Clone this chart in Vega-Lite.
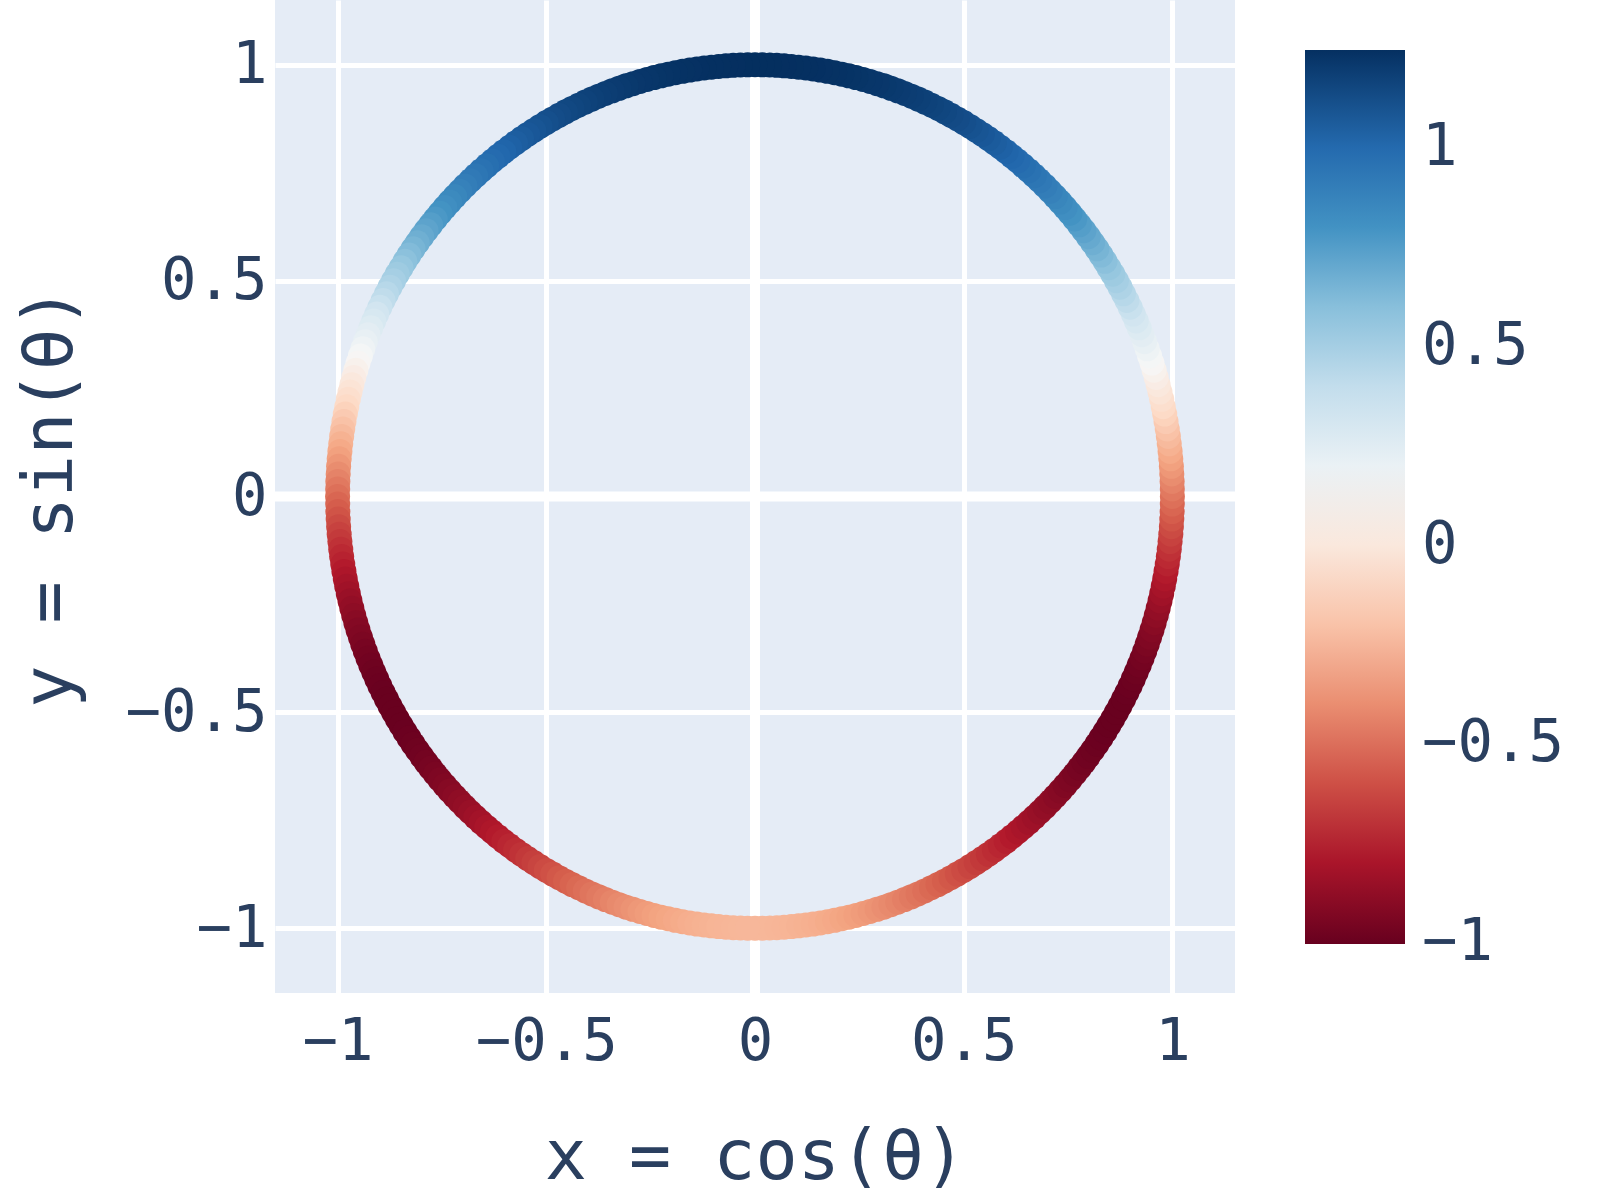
{
"$schema": "https://vega.github.io/schema/vega-lite/v6.json",
"width": 960,
"height": 993,
"autosize": "none",
"padding": {"left": 275, "top": 0, "right": 365, "bottom": 207},
"background": "white",
"config": {
  "view": {"fill": "#e5ecf6", "stroke": null},
  "axis": {"domain": false, "ticks": false, "gridColor": "white", "gridWidth": 5, "gridOpacity": 1,
    "labelFont": "DejaVu Sans Mono", "labelFontSize": 59, "labelColor": "#2a3f5f",
    "titleFont": "DejaVu Sans Mono", "titleFontSize": 70, "titleColor": "#2a3f5f", "titleFontWeight": "normal"}
},
"datasets": {
  "zero": [{"v": 0}],
  "ring": [
{"x":0,"y":-1,"c":-0.25},
{"x":0.0175,"y":-0.9998,"c":-0.25},
{"x":0.0349,"y":-0.9994,"c":-0.252},
{"x":0.0523,"y":-0.9986,"c":-0.255},
{"x":0.0698,"y":-0.9976,"c":-0.258},
{"x":0.0872,"y":-0.9962,"c":-0.262},
{"x":0.1045,"y":-0.9945,"c":-0.268},
{"x":0.1219,"y":-0.9925,"c":-0.274},
{"x":0.1392,"y":-0.9903,"c":-0.281},
{"x":0.1564,"y":-0.9877,"c":-0.289},
{"x":0.1736,"y":-0.9848,"c":-0.299},
{"x":0.1908,"y":-0.9816,"c":-0.308},
{"x":0.2079,"y":-0.9781,"c":-0.319},
{"x":0.225,"y":-0.9744,"c":-0.331},
{"x":0.2419,"y":-0.9703,"c":-0.343},
{"x":0.2588,"y":-0.9659,"c":-0.356},
{"x":0.2756,"y":-0.9613,"c":-0.37},
{"x":0.2924,"y":-0.9563,"c":-0.385},
{"x":0.309,"y":-0.9511,"c":-0.4},
{"x":0.3256,"y":-0.9455,"c":-0.415},
{"x":0.342,"y":-0.9397,"c":-0.432},
{"x":0.3584,"y":-0.9336,"c":-0.449},
{"x":0.3746,"y":-0.9272,"c":-0.466},
{"x":0.3907,"y":-0.9205,"c":-0.484},
{"x":0.4067,"y":-0.9135,"c":-0.502},
{"x":0.4226,"y":-0.9063,"c":-0.52},
{"x":0.4384,"y":-0.8988,"c":-0.539},
{"x":0.454,"y":-0.891,"c":-0.558},
{"x":0.4695,"y":-0.8829,"c":-0.577},
{"x":0.4848,"y":-0.8746,"c":-0.597},
{"x":0.5,"y":-0.866,"c":-0.616},
{"x":0.515,"y":-0.8572,"c":-0.636},
{"x":0.5299,"y":-0.848,"c":-0.655},
{"x":0.5446,"y":-0.8387,"c":-0.674},
{"x":0.5592,"y":-0.829,"c":-0.694},
{"x":0.5736,"y":-0.8192,"c":-0.713},
{"x":0.5878,"y":-0.809,"c":-0.732},
{"x":0.6018,"y":-0.7986,"c":-0.75},
{"x":0.6157,"y":-0.788,"c":-0.769},
{"x":0.6293,"y":-0.7771,"c":-0.787},
{"x":0.6428,"y":-0.766,"c":-0.804},
{"x":0.6561,"y":-0.7547,"c":-0.821},
{"x":0.6691,"y":-0.7431,"c":-0.838},
{"x":0.682,"y":-0.7314,"c":-0.854},
{"x":0.6947,"y":-0.7193,"c":-0.869},
{"x":0.7071,"y":-0.7071,"c":-0.884},
{"x":0.7193,"y":-0.6947,"c":-0.898},
{"x":0.7314,"y":-0.682,"c":-0.911},
{"x":0.7431,"y":-0.6691,"c":-0.924},
{"x":0.7547,"y":-0.6561,"c":-0.935},
{"x":0.766,"y":-0.6428,"c":-0.946},
{"x":0.7771,"y":-0.6293,"c":-0.956},
{"x":0.788,"y":-0.6157,"c":-0.965},
{"x":0.7986,"y":-0.6018,"c":-0.973},
{"x":0.809,"y":-0.5878,"c":-0.98},
{"x":0.8192,"y":-0.5736,"c":-0.986},
{"x":0.829,"y":-0.5592,"c":-0.991},
{"x":0.8387,"y":-0.5446,"c":-0.995},
{"x":0.848,"y":-0.5299,"c":-0.998},
{"x":0.8572,"y":-0.515,"c":-0.999},
{"x":0.866,"y":-0.5,"c":-1.0},
{"x":0.8746,"y":-0.4848,"c":-0.999},
{"x":0.8829,"y":-0.4695,"c":-0.998},
{"x":0.891,"y":-0.454,"c":-0.995},
{"x":0.8988,"y":-0.4384,"c":-0.991},
{"x":0.9063,"y":-0.4226,"c":-0.986},
{"x":0.9135,"y":-0.4067,"c":-0.979},
{"x":0.9205,"y":-0.3907,"c":-0.972},
{"x":0.9272,"y":-0.3746,"c":-0.963},
{"x":0.9336,"y":-0.3584,"c":-0.953},
{"x":0.9397,"y":-0.342,"c":-0.942},
{"x":0.9455,"y":-0.3256,"c":-0.929},
{"x":0.9511,"y":-0.309,"c":-0.916},
{"x":0.9563,"y":-0.2924,"c":-0.901},
{"x":0.9613,"y":-0.2756,"c":-0.885},
{"x":0.9659,"y":-0.2588,"c":-0.869},
{"x":0.9703,"y":-0.2419,"c":-0.851},
{"x":0.9744,"y":-0.225,"c":-0.832},
{"x":0.9781,"y":-0.2079,"c":-0.812},
{"x":0.9816,"y":-0.1908,"c":-0.791},
{"x":0.9848,"y":-0.1736,"c":-0.768},
{"x":0.9877,"y":-0.1564,"c":-0.745},
{"x":0.9903,"y":-0.1392,"c":-0.722},
{"x":0.9925,"y":-0.1219,"c":-0.697},
{"x":0.9945,"y":-0.1045,"c":-0.671},
{"x":0.9962,"y":-0.0872,"c":-0.644},
{"x":0.9976,"y":-0.0698,"c":-0.617},
{"x":0.9986,"y":-0.0523,"c":-0.589},
{"x":0.9994,"y":-0.0349,"c":-0.56},
{"x":0.9998,"y":-0.0175,"c":-0.53},
{"x":1,"y":0,"c":-0.5},
{"x":0.9998,"y":0.0175,"c":-0.469},
{"x":0.9994,"y":0.0349,"c":-0.438},
{"x":0.9986,"y":0.0523,"c":-0.406},
{"x":0.9976,"y":0.0698,"c":-0.373},
{"x":0.9962,"y":0.0872,"c":-0.341},
{"x":0.9945,"y":0.1045,"c":-0.307},
{"x":0.9925,"y":0.1219,"c":-0.274},
{"x":0.9903,"y":0.1392,"c":-0.24},
{"x":0.9877,"y":0.1564,"c":-0.206},
{"x":0.9848,"y":0.1736,"c":-0.171},
{"x":0.9816,"y":0.1908,"c":-0.137},
{"x":0.9781,"y":0.2079,"c":-0.102},
{"x":0.9744,"y":0.225,"c":-0.067},
{"x":0.9703,"y":0.2419,"c":-0.032},
{"x":0.9659,"y":0.2588,"c":0.003},
{"x":0.9613,"y":0.2756,"c":0.037},
{"x":0.9563,"y":0.2924,"c":0.072},
{"x":0.9511,"y":0.309,"c":0.107},
{"x":0.9455,"y":0.3256,"c":0.141},
{"x":0.9397,"y":0.342,"c":0.176},
{"x":0.9336,"y":0.3584,"c":0.21},
{"x":0.9272,"y":0.3746,"c":0.243},
{"x":0.9205,"y":0.3907,"c":0.277},
{"x":0.9135,"y":0.4067,"c":0.31},
{"x":0.9063,"y":0.4226,"c":0.343},
{"x":0.8988,"y":0.4384,"c":0.375},
{"x":0.891,"y":0.454,"c":0.407},
{"x":0.8829,"y":0.4695,"c":0.439},
{"x":0.8746,"y":0.4848,"c":0.47},
{"x":0.866,"y":0.5,"c":0.5},
{"x":0.8572,"y":0.515,"c":0.53},
{"x":0.848,"y":0.5299,"c":0.559},
{"x":0.8387,"y":0.5446,"c":0.588},
{"x":0.829,"y":0.5592,"c":0.616},
{"x":0.8192,"y":0.5736,"c":0.644},
{"x":0.809,"y":0.5878,"c":0.671},
{"x":0.7986,"y":0.6018,"c":0.697},
{"x":0.788,"y":0.6157,"c":0.723},
{"x":0.7771,"y":0.6293,"c":0.748},
{"x":0.766,"y":0.6428,"c":0.773},
{"x":0.7547,"y":0.6561,"c":0.796},
{"x":0.7431,"y":0.6691,"c":0.819},
{"x":0.7314,"y":0.682,"c":0.841},
{"x":0.7193,"y":0.6947,"c":0.863},
{"x":0.7071,"y":0.7071,"c":0.884},
{"x":0.6947,"y":0.7193,"c":0.904},
{"x":0.682,"y":0.7314,"c":0.924},
{"x":0.6691,"y":0.7431,"c":0.942},
{"x":0.6561,"y":0.7547,"c":0.961},
{"x":0.6428,"y":0.766,"c":0.978},
{"x":0.6293,"y":0.7771,"c":0.995},
{"x":0.6157,"y":0.788,"c":1.011},
{"x":0.6018,"y":0.7986,"c":1.026},
{"x":0.5878,"y":0.809,"c":1.041},
{"x":0.5736,"y":0.8192,"c":1.055},
{"x":0.5592,"y":0.829,"c":1.068},
{"x":0.5446,"y":0.8387,"c":1.081},
{"x":0.5299,"y":0.848,"c":1.093},
{"x":0.515,"y":0.8572,"c":1.105},
{"x":0.5,"y":0.866,"c":1.116},
{"x":0.4848,"y":0.8746,"c":1.127},
{"x":0.4695,"y":0.8829,"c":1.136},
{"x":0.454,"y":0.891,"c":1.146},
{"x":0.4384,"y":0.8988,"c":1.155},
{"x":0.4226,"y":0.9063,"c":1.163},
{"x":0.4067,"y":0.9135,"c":1.171},
{"x":0.3907,"y":0.9205,"c":1.178},
{"x":0.3746,"y":0.9272,"c":1.185},
{"x":0.3584,"y":0.9336,"c":1.192},
{"x":0.342,"y":0.9397,"c":1.198},
{"x":0.3256,"y":0.9455,"c":1.203},
{"x":0.309,"y":0.9511,"c":1.209},
{"x":0.2924,"y":0.9563,"c":1.214},
{"x":0.2756,"y":0.9613,"c":1.218},
{"x":0.2588,"y":0.9659,"c":1.222},
{"x":0.2419,"y":0.9703,"c":1.226},
{"x":0.225,"y":0.9744,"c":1.23},
{"x":0.2079,"y":0.9781,"c":1.233},
{"x":0.1908,"y":0.9816,"c":1.236},
{"x":0.1736,"y":0.9848,"c":1.238},
{"x":0.1564,"y":0.9877,"c":1.24},
{"x":0.1392,"y":0.9903,"c":1.243},
{"x":0.1219,"y":0.9925,"c":1.244},
{"x":0.1045,"y":0.9945,"c":1.246},
{"x":0.0872,"y":0.9962,"c":1.247},
{"x":0.0698,"y":0.9976,"c":1.248},
{"x":0.0523,"y":0.9986,"c":1.249},
{"x":0.0349,"y":0.9994,"c":1.25},
{"x":0.0175,"y":0.9998,"c":1.25},
{"x":0,"y":1,"c":1.25},
{"x":-0.0175,"y":0.9998,"c":1.25},
{"x":-0.0349,"y":0.9994,"c":1.25},
{"x":-0.0523,"y":0.9986,"c":1.249},
{"x":-0.0698,"y":0.9976,"c":1.248},
{"x":-0.0872,"y":0.9962,"c":1.247},
{"x":-0.1045,"y":0.9945,"c":1.246},
{"x":-0.1219,"y":0.9925,"c":1.244},
{"x":-0.1392,"y":0.9903,"c":1.243},
{"x":-0.1564,"y":0.9877,"c":1.24},
{"x":-0.1736,"y":0.9848,"c":1.238},
{"x":-0.1908,"y":0.9816,"c":1.236},
{"x":-0.2079,"y":0.9781,"c":1.233},
{"x":-0.225,"y":0.9744,"c":1.23},
{"x":-0.2419,"y":0.9703,"c":1.226},
{"x":-0.2588,"y":0.9659,"c":1.222},
{"x":-0.2756,"y":0.9613,"c":1.218},
{"x":-0.2924,"y":0.9563,"c":1.214},
{"x":-0.309,"y":0.9511,"c":1.209},
{"x":-0.3256,"y":0.9455,"c":1.203},
{"x":-0.342,"y":0.9397,"c":1.198},
{"x":-0.3584,"y":0.9336,"c":1.192},
{"x":-0.3746,"y":0.9272,"c":1.185},
{"x":-0.3907,"y":0.9205,"c":1.178},
{"x":-0.4067,"y":0.9135,"c":1.171},
{"x":-0.4226,"y":0.9063,"c":1.163},
{"x":-0.4384,"y":0.8988,"c":1.155},
{"x":-0.454,"y":0.891,"c":1.146},
{"x":-0.4695,"y":0.8829,"c":1.136},
{"x":-0.4848,"y":0.8746,"c":1.127},
{"x":-0.5,"y":0.866,"c":1.116},
{"x":-0.515,"y":0.8572,"c":1.105},
{"x":-0.5299,"y":0.848,"c":1.093},
{"x":-0.5446,"y":0.8387,"c":1.081},
{"x":-0.5592,"y":0.829,"c":1.068},
{"x":-0.5736,"y":0.8192,"c":1.055},
{"x":-0.5878,"y":0.809,"c":1.041},
{"x":-0.6018,"y":0.7986,"c":1.026},
{"x":-0.6157,"y":0.788,"c":1.011},
{"x":-0.6293,"y":0.7771,"c":0.995},
{"x":-0.6428,"y":0.766,"c":0.978},
{"x":-0.6561,"y":0.7547,"c":0.961},
{"x":-0.6691,"y":0.7431,"c":0.942},
{"x":-0.682,"y":0.7314,"c":0.924},
{"x":-0.6947,"y":0.7193,"c":0.904},
{"x":-0.7071,"y":0.7071,"c":0.884},
{"x":-0.7193,"y":0.6947,"c":0.863},
{"x":-0.7314,"y":0.682,"c":0.841},
{"x":-0.7431,"y":0.6691,"c":0.819},
{"x":-0.7547,"y":0.6561,"c":0.796},
{"x":-0.766,"y":0.6428,"c":0.773},
{"x":-0.7771,"y":0.6293,"c":0.748},
{"x":-0.788,"y":0.6157,"c":0.723},
{"x":-0.7986,"y":0.6018,"c":0.697},
{"x":-0.809,"y":0.5878,"c":0.671},
{"x":-0.8192,"y":0.5736,"c":0.644},
{"x":-0.829,"y":0.5592,"c":0.616},
{"x":-0.8387,"y":0.5446,"c":0.588},
{"x":-0.848,"y":0.5299,"c":0.559},
{"x":-0.8572,"y":0.515,"c":0.53},
{"x":-0.866,"y":0.5,"c":0.5},
{"x":-0.8746,"y":0.4848,"c":0.47},
{"x":-0.8829,"y":0.4695,"c":0.439},
{"x":-0.891,"y":0.454,"c":0.407},
{"x":-0.8988,"y":0.4384,"c":0.375},
{"x":-0.9063,"y":0.4226,"c":0.343},
{"x":-0.9135,"y":0.4067,"c":0.31},
{"x":-0.9205,"y":0.3907,"c":0.277},
{"x":-0.9272,"y":0.3746,"c":0.243},
{"x":-0.9336,"y":0.3584,"c":0.21},
{"x":-0.9397,"y":0.342,"c":0.176},
{"x":-0.9455,"y":0.3256,"c":0.141},
{"x":-0.9511,"y":0.309,"c":0.107},
{"x":-0.9563,"y":0.2924,"c":0.072},
{"x":-0.9613,"y":0.2756,"c":0.037},
{"x":-0.9659,"y":0.2588,"c":0.003},
{"x":-0.9703,"y":0.2419,"c":-0.032},
{"x":-0.9744,"y":0.225,"c":-0.067},
{"x":-0.9781,"y":0.2079,"c":-0.102},
{"x":-0.9816,"y":0.1908,"c":-0.137},
{"x":-0.9848,"y":0.1736,"c":-0.171},
{"x":-0.9877,"y":0.1564,"c":-0.206},
{"x":-0.9903,"y":0.1392,"c":-0.24},
{"x":-0.9925,"y":0.1219,"c":-0.274},
{"x":-0.9945,"y":0.1045,"c":-0.307},
{"x":-0.9962,"y":0.0872,"c":-0.341},
{"x":-0.9976,"y":0.0698,"c":-0.373},
{"x":-0.9986,"y":0.0523,"c":-0.406},
{"x":-0.9994,"y":0.0349,"c":-0.438},
{"x":-0.9998,"y":0.0175,"c":-0.469},
{"x":-1,"y":0,"c":-0.5},
{"x":-0.9998,"y":-0.0175,"c":-0.53},
{"x":-0.9994,"y":-0.0349,"c":-0.56},
{"x":-0.9986,"y":-0.0523,"c":-0.589},
{"x":-0.9976,"y":-0.0698,"c":-0.617},
{"x":-0.9962,"y":-0.0872,"c":-0.644},
{"x":-0.9945,"y":-0.1045,"c":-0.671},
{"x":-0.9925,"y":-0.1219,"c":-0.697},
{"x":-0.9903,"y":-0.1392,"c":-0.722},
{"x":-0.9877,"y":-0.1564,"c":-0.745},
{"x":-0.9848,"y":-0.1736,"c":-0.768},
{"x":-0.9816,"y":-0.1908,"c":-0.791},
{"x":-0.9781,"y":-0.2079,"c":-0.812},
{"x":-0.9744,"y":-0.225,"c":-0.832},
{"x":-0.9703,"y":-0.2419,"c":-0.851},
{"x":-0.9659,"y":-0.2588,"c":-0.869},
{"x":-0.9613,"y":-0.2756,"c":-0.885},
{"x":-0.9563,"y":-0.2924,"c":-0.901},
{"x":-0.9511,"y":-0.309,"c":-0.916},
{"x":-0.9455,"y":-0.3256,"c":-0.929},
{"x":-0.9397,"y":-0.342,"c":-0.942},
{"x":-0.9336,"y":-0.3584,"c":-0.953},
{"x":-0.9272,"y":-0.3746,"c":-0.963},
{"x":-0.9205,"y":-0.3907,"c":-0.972},
{"x":-0.9135,"y":-0.4067,"c":-0.979},
{"x":-0.9063,"y":-0.4226,"c":-0.986},
{"x":-0.8988,"y":-0.4384,"c":-0.991},
{"x":-0.891,"y":-0.454,"c":-0.995},
{"x":-0.8829,"y":-0.4695,"c":-0.998},
{"x":-0.8746,"y":-0.4848,"c":-0.999},
{"x":-0.866,"y":-0.5,"c":-1.0},
{"x":-0.8572,"y":-0.515,"c":-0.999},
{"x":-0.848,"y":-0.5299,"c":-0.998},
{"x":-0.8387,"y":-0.5446,"c":-0.995},
{"x":-0.829,"y":-0.5592,"c":-0.991},
{"x":-0.8192,"y":-0.5736,"c":-0.986},
{"x":-0.809,"y":-0.5878,"c":-0.98},
{"x":-0.7986,"y":-0.6018,"c":-0.973},
{"x":-0.788,"y":-0.6157,"c":-0.965},
{"x":-0.7771,"y":-0.6293,"c":-0.956},
{"x":-0.766,"y":-0.6428,"c":-0.946},
{"x":-0.7547,"y":-0.6561,"c":-0.935},
{"x":-0.7431,"y":-0.6691,"c":-0.924},
{"x":-0.7314,"y":-0.682,"c":-0.911},
{"x":-0.7193,"y":-0.6947,"c":-0.898},
{"x":-0.7071,"y":-0.7071,"c":-0.884},
{"x":-0.6947,"y":-0.7193,"c":-0.869},
{"x":-0.682,"y":-0.7314,"c":-0.854},
{"x":-0.6691,"y":-0.7431,"c":-0.838},
{"x":-0.6561,"y":-0.7547,"c":-0.821},
{"x":-0.6428,"y":-0.766,"c":-0.804},
{"x":-0.6293,"y":-0.7771,"c":-0.787},
{"x":-0.6157,"y":-0.788,"c":-0.769},
{"x":-0.6018,"y":-0.7986,"c":-0.75},
{"x":-0.5878,"y":-0.809,"c":-0.732},
{"x":-0.5736,"y":-0.8192,"c":-0.713},
{"x":-0.5592,"y":-0.829,"c":-0.694},
{"x":-0.5446,"y":-0.8387,"c":-0.674},
{"x":-0.5299,"y":-0.848,"c":-0.655},
{"x":-0.515,"y":-0.8572,"c":-0.636},
{"x":-0.5,"y":-0.866,"c":-0.616},
{"x":-0.4848,"y":-0.8746,"c":-0.597},
{"x":-0.4695,"y":-0.8829,"c":-0.577},
{"x":-0.454,"y":-0.891,"c":-0.558},
{"x":-0.4384,"y":-0.8988,"c":-0.539},
{"x":-0.4226,"y":-0.9063,"c":-0.52},
{"x":-0.4067,"y":-0.9135,"c":-0.502},
{"x":-0.3907,"y":-0.9205,"c":-0.484},
{"x":-0.3746,"y":-0.9272,"c":-0.466},
{"x":-0.3584,"y":-0.9336,"c":-0.449},
{"x":-0.342,"y":-0.9397,"c":-0.432},
{"x":-0.3256,"y":-0.9455,"c":-0.415},
{"x":-0.309,"y":-0.9511,"c":-0.4},
{"x":-0.2924,"y":-0.9563,"c":-0.385},
{"x":-0.2756,"y":-0.9613,"c":-0.37},
{"x":-0.2588,"y":-0.9659,"c":-0.356},
{"x":-0.2419,"y":-0.9703,"c":-0.343},
{"x":-0.225,"y":-0.9744,"c":-0.331},
{"x":-0.2079,"y":-0.9781,"c":-0.319},
{"x":-0.1908,"y":-0.9816,"c":-0.308},
{"x":-0.1736,"y":-0.9848,"c":-0.299},
{"x":-0.1564,"y":-0.9877,"c":-0.289},
{"x":-0.1392,"y":-0.9903,"c":-0.281},
{"x":-0.1219,"y":-0.9925,"c":-0.274},
{"x":-0.1045,"y":-0.9945,"c":-0.268},
{"x":-0.0872,"y":-0.9962,"c":-0.262},
{"x":-0.0698,"y":-0.9976,"c":-0.258},
{"x":-0.0523,"y":-0.9986,"c":-0.255},
{"x":-0.0349,"y":-0.9994,"c":-0.252},
{"x":-0.0175,"y":-0.9998,"c":-0.25}
  ]
},
"layer": [
  {
    "data": {"name": "zero"},
    "mark": {"type": "rule", "color": "white", "strokeWidth": 10},
    "encoding": {"x": {"field": "v", "type": "quantitative", "scale": {"domain": [-1.15, 1.15], "nice": false, "zero": false}}}
  },
  {
    "data": {"name": "zero"},
    "mark": {"type": "rule", "color": "white", "strokeWidth": 10},
    "encoding": {"y": {"field": "v", "type": "quantitative", "scale": {"domain": [-1.15, 1.15], "nice": false, "zero": false}}}
  },
  {
    "data": {"name": "ring"},
    "mark": {"type": "point", "shape": "circle", "filled": true, "opacity": 1, "size": 625, "strokeWidth": 0},
    "encoding": {
      "x": {"field": "x", "type": "quantitative", "scale": {"domain": [-1.15, 1.15], "nice": false, "zero": false},
        "axis": {"values": [-1, -0.5, 0, 0.5, 1], "format": "~g", "title": "x = cos(θ)", "labelPadding": 19, "titlePadding": 52}},
      "y": {"field": "y", "type": "quantitative", "scale": {"domain": [-1.15, 1.15], "nice": false, "zero": false},
        "axis": {"values": [-1, -0.5, 0, 0.5, 1], "format": "~g", "title": "y = sin(θ)", "labelPadding": 8, "titlePadding": 38}},
      "color": {"field": "c", "type": "quantitative",
        "scale": {"domain": [-1.005, -0.7755, -0.551, -0.3265, -0.102, 0.1225, 0.347, 0.5715, 0.796, 1.0205, 1.245],
          "range": ["#67001f","#b2182b","#d6604d","#f4a582","#fddbc7","#f7f7f7","#d1e5f0","#92c5de","#4393c3","#2166ac","#053061"],
          "interpolate": "rgb", "nice": false, "zero": false},
        "legend": {"orient": "none", "legendX": 1030, "legendY": 50, "direction": "vertical", "title": null,
          "gradientLength": 894, "gradientThickness": 100, "gradientStrokeWidth": 0,
          "values": [-1, -0.5, 0, 0.5, 1], "format": "~g",
          "labelFont": "DejaVu Sans Mono", "labelFontSize": 59, "labelColor": "#2a3f5f",
          "labelOffset": 17, "padding": 0}}
    }
  }
]
}
